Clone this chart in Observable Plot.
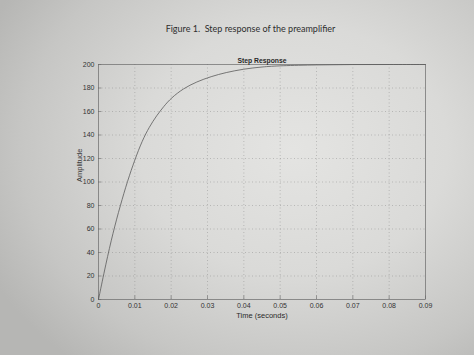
<!DOCTYPE html>
<html><head><meta charset="utf-8">
<script src="https://cdn.jsdelivr.net/npm/d3@7"></script>
<script src="https://cdn.jsdelivr.net/npm/@observablehq/plot@0.6"></script>
<style>
html,body{margin:0;padding:0;width:474px;height:355px;overflow:hidden;}
body{background: radial-gradient(ellipse 72% 78% at 62% 42%, #e4e4e2 0%, #dadad8 45%, #c6c6c4 80%, #b6b6b4 100%); position:relative; font-family:"Liberation Sans", Arial, sans-serif;}
#title{position:absolute;top:23px;left:0;width:501px;text-align:center;font-family:Lato,"Open Sans",sans-serif;font-size:9px;color:#2e2e2e;white-space:pre;}
#chart{position:absolute;top:0;left:0;}
</style></head><body>
<div id="title"></div><div id="chart"></div>
<script>
const titleText = "Figure 1.  Step response of the preamplifier";
const plotTitle = "Step Response";
const xLabel = "Time (seconds)";
const yLabel = "Amplitude";
const time      = [0, 0.002, 0.004, 0.006, 0.008, 0.010, 0.012, 0.014, 0.016, 0.018, 0.020, 0.0233, 0.027, 0.031, 0.035, 0.040, 0.045, 0.050, 0.060, 0.070, 0.080, 0.090];
const amplitude = [0, 30, 57, 80, 101, 119, 135, 147, 156.5, 164.5, 171.5, 179.5, 185.3, 189.8, 193.2, 196.2, 198, 199, 199.7, 200, 200, 200];
const xTicks = [0, 0.01, 0.02, 0.03, 0.04, 0.05, 0.06, 0.07, 0.08, 0.09];
const xTickLabels = ["0", "0.01", "0.02", "0.03", "0.04", "0.05", "0.06", "0.07", "0.08", "0.09"];
const yTicks = [0, 20, 40, 60, 80, 100, 120, 140, 160, 180, 200];
const yTickLabels = ["0", "20", "40", "60", "80", "100", "120", "140", "160", "180", "200"];

document.getElementById("title").textContent = titleText;
const data = time.map((t, i) => ({t, a: amplitude[i]}));
const gridStyle = {stroke: "#6e6e6e", strokeOpacity: 0.5, strokeWidth: 0.7, strokeDasharray: "1,2.5"};
const plot = Plot.plot({
  width: 474, height: 355,
  marginLeft: 98, marginRight: 49, marginTop: 64, marginBottom: 56,
  style: {background: "transparent", fontFamily: "Liberation Sans, Arial, sans-serif", fontSize: "7px", color: "#3a3a3a"},
  x: {domain: [0, 0.09]},
  y: {domain: [0, 200]},
  marks: [
    Plot.gridX(xTicks.slice(1, -1), gridStyle),
    Plot.gridY(yTicks.slice(1, -1), gridStyle),
    Plot.axisX(xTicks, {tickSize: 0, tickPadding: 3.5, fill: "#333", tickFormat: d => xTickLabels[xTicks.indexOf(d)], label: null}),
    Plot.axisY(yTicks, {tickSize: 0, tickPadding: 4, fill: "#333", tickFormat: d => yTickLabels[yTicks.indexOf(d)], label: null}),
    Plot.ruleX(xTicks, {y1: 0, y2: 3, stroke: "#666", strokeWidth: 0.6}),
    Plot.ruleY(yTicks, {x1: 0, x2: 0.0009, stroke: "#666", strokeWidth: 0.6}),
    Plot.frame({stroke: "#6a6a6a", strokeWidth: 0.7}),
    Plot.line(data, {x: "t", y: "a", stroke: "#5a5a5a", strokeWidth: 0.8, curve: "basis"}),
    Plot.text([plotTitle], {frameAnchor: "top", dy: -6, fontSize: 6.8, fontWeight: 600, fill: "#2a2a2a"}),
    Plot.text([xLabel], {frameAnchor: "bottom", dy: 18, fontSize: 7.5, fill: "#2a2a2a"}),
    Plot.text([yLabel], {frameAnchor: "left", dx: -19, rotate: -90, fontSize: 7.5, fill: "#3a3a3a"})
  ]
});
document.getElementById("chart").appendChild(plot);
</script>
</body></html>
